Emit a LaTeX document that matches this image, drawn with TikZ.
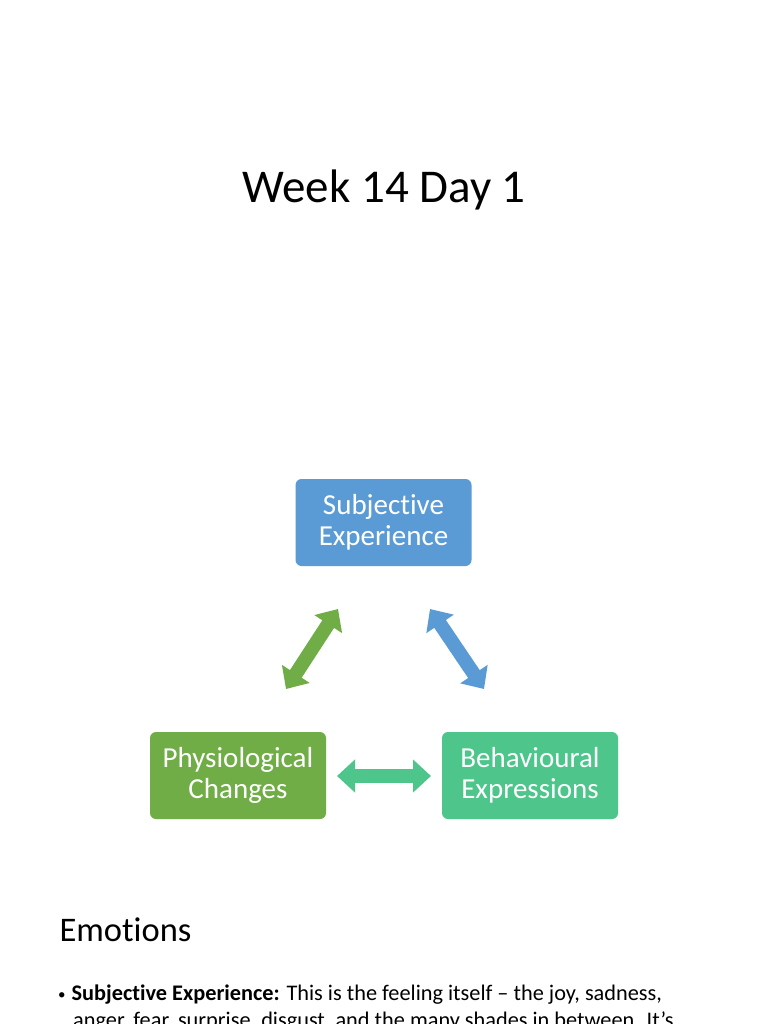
\documentclass[tikz,border=0pt]{standalone}
\usepackage{fontspec}
\setmainfont[Ligatures={NoCommon}]{Carlito}
\usetikzlibrary{arrows.meta}
\definecolor{cblue}{HTML}{5B9BD5}
\definecolor{cgreen}{HTML}{70AD47}
\definecolor{cteal}{HTML}{4EC58A}
\begin{document}
\begin{tikzpicture}[x=1pt,y=-1pt,
  box/.style={rounded corners=6pt,minimum width=176pt,minimum height=87pt,text=white,font=\fontsize{29}{31}\selectfont,align=center,inner sep=0pt},
  dbl/.style={line width=14pt,{Triangle[length=18pt,width=32pt]}-{Triangle[length=18pt,width=32pt]}}]
\useasboundingbox (0,0) rectangle (768,1024);
\clip (0,0) rectangle (768,1024);
\fill[white] (0,0) rectangle (768,1024);
\node (title) at (384,190) {\fontsize{47}{56}\selectfont Week 14 Day 1};
\node[box,fill=cblue] (s) at (383.5,522.5) {Subjective\\Experience};
\node[box,fill=cgreen] (p) at (238,775.5) {Physiological\\Changes};
\node[box,fill=cteal] (b) at (530,775.5) {Behavioural\\Expressions};
\coordinate (g1) at (286,689); \coordinate (g2) at (338,609);
\coordinate (b1) at (430,609); \coordinate (b2) at (484,689);
\coordinate (h1) at (337,776); \coordinate (h2) at (431,776);
\draw[dbl,cgreen] (g1) -- (g2);
\draw[dbl,cblue] (b1) -- (b2);
\draw[dbl,cteal] (h1) -- (h2);
\node[anchor=west] (emo) at (56,930) {\fontsize{34.5}{40}\selectfont Emotions};
\node[anchor=north west,align=left,inner sep=0pt,font=\fontsize{22.3}{26.5}\selectfont] (txt) at (58,985)
 {{\fontsize{15}{15}\selectfont\raisebox{1pt}{•}}\hspace{6pt}\textbf{Subjective Experience:} This is the feeling itself – the joy, sadness,\\
 \hspace{15pt}anger, fear, surprise, disgust, and the many shades in between. It\symbol{"0027}s};
\end{tikzpicture}
\end{document}
